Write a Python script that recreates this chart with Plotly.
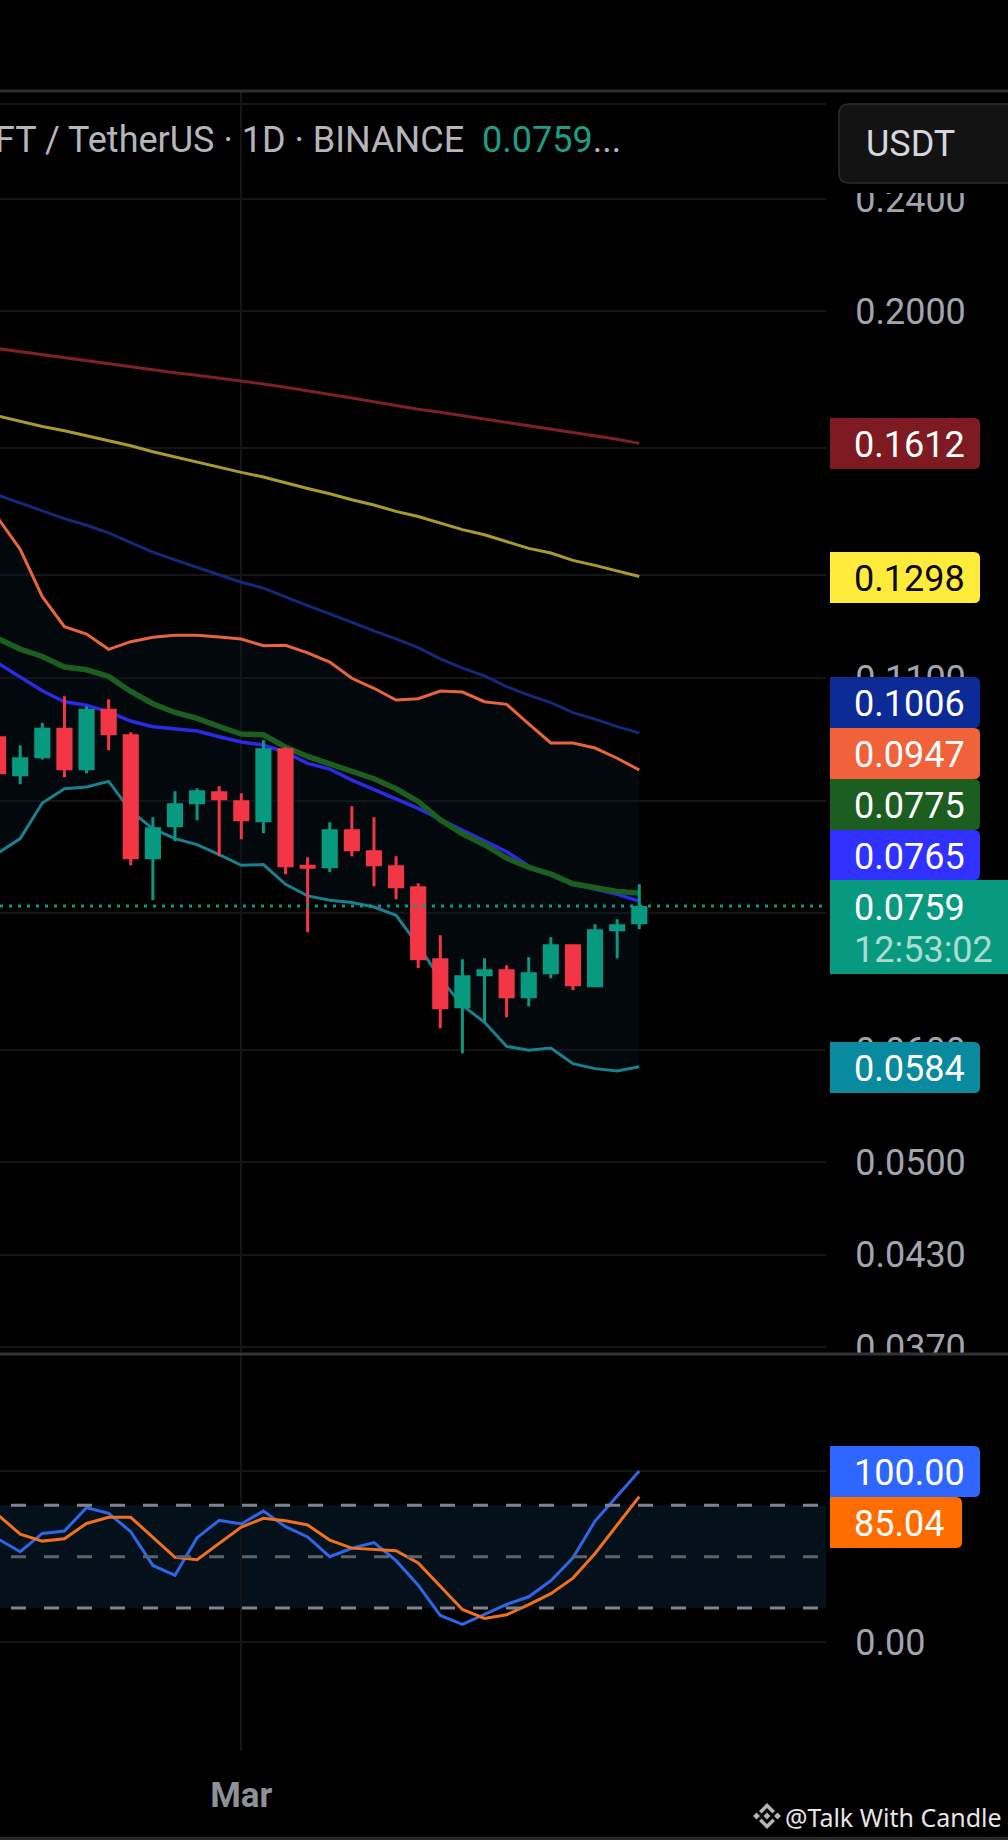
import pandas as pd
import plotly.graph_objects as go

# One candle per day, 18 Feb - 19 Mar
days = pd.date_range('2025-02-18', periods=30).strftime('%Y-%m-%d').tolist()

opens = [0.09982, 0.09397, 0.09677, 0.10118, 0.09490, 0.10436, 0.10014, 0.08210, 0.08649, 0.08979,
         0.09126, 0.08993, 0.08720, 0.09788, 0.08097, 0.08090, 0.08579, 0.08290, 0.08090, 0.07818,
         0.06953, 0.06440, 0.06785, 0.06830, 0.06546, 0.06807, 0.07114, 0.06664, 0.07301, 0.07385]
highs = [0.10105, 0.09860, 0.10225, 0.10679, 0.10507, 0.10628, 0.10072, 0.08770, 0.09149, 0.09193,
         0.09223, 0.09119, 0.09941, 0.09829, 0.08216, 0.08698, 0.08928, 0.08770, 0.08229, 0.07876,
         0.07236, 0.06958, 0.06970, 0.06891, 0.06981, 0.07213, 0.07131, 0.07367, 0.07427, 0.07863]
lows = [0.09344, 0.09253, 0.09633, 0.09359, 0.09421, 0.09780, 0.08110, 0.07661, 0.08433, 0.08727,
        0.08229, 0.08461, 0.08544, 0.07992, 0.07272, 0.08018, 0.08229, 0.07837, 0.07673, 0.06857,
        0.06219, 0.05971, 0.06280, 0.06332, 0.06446, 0.06746, 0.06616, 0.06649, 0.06970, 0.07307]
closes = [0.09428, 0.09646, 0.10118, 0.09490, 0.10436, 0.10046, 0.08210, 0.08606, 0.08950, 0.09141,
          0.09037, 0.08734, 0.09788, 0.08103, 0.08083, 0.08579, 0.08317, 0.08116, 0.07831, 0.06964,
          0.06431, 0.06763, 0.06830, 0.06546, 0.06796, 0.07114, 0.06676, 0.07289, 0.07349, 0.07570]

# Moving averages
ma_red = [0.18810, 0.18717, 0.18626, 0.18535, 0.18435, 0.18354, 0.18264, 0.18175, 0.18087, 0.18011,
          0.17932, 0.17844, 0.17756, 0.17663, 0.17564, 0.17471, 0.17357, 0.17253, 0.17141, 0.17041,
          0.16958, 0.16864, 0.16773, 0.16684, 0.16591, 0.16503, 0.16404, 0.16323, 0.16228, 0.1612]
ma_yellow = [0.16855, 0.16707, 0.16572, 0.16456, 0.16324, 0.16190, 0.16059, 0.15903, 0.15767, 0.15629,
             0.15501, 0.15376, 0.15261, 0.15113, 0.14980, 0.14852, 0.14706, 0.14580, 0.14430, 0.14312,
             0.14160, 0.14007, 0.13892, 0.13742, 0.13586, 0.13484, 0.13323, 0.13215, 0.13101, 0.1298]
ma_navy = [0.14815, 0.14624, 0.14435, 0.14261, 0.14109, 0.13933, 0.13715, 0.13503, 0.13335, 0.13177,
           0.13013, 0.12858, 0.12734, 0.12548, 0.12378, 0.12212, 0.12040, 0.11878, 0.11724, 0.11559,
           0.11349, 0.11178, 0.11039, 0.10848, 0.10697, 0.10568, 0.10398, 0.10287, 0.10164, 0.1006]
ma_green = [0.11727, 0.11531, 0.11393, 0.11199, 0.11149, 0.11028, 0.10762, 0.10549, 0.10400, 0.10300,
            0.10166, 0.10041, 0.10029, 0.09830, 0.09681, 0.09567, 0.09438, 0.09336, 0.09185, 0.08997,
            0.08733, 0.08536, 0.08385, 0.08205, 0.08080, 0.07993, 0.07868, 0.07813, 0.07770, 0.0775]
ma_blue = [0.11266, 0.11012, 0.10775, 0.10584, 0.10522, 0.10412, 0.10256, 0.10161, 0.10128, 0.10090,
           0.09997, 0.09911, 0.09863, 0.09746, 0.09573, 0.09485, 0.09316, 0.09176, 0.09028, 0.08897,
           0.08739, 0.08588, 0.08449, 0.08290, 0.08099, 0.07980, 0.07865, 0.07801, 0.07734, 0.0765]

# Bollinger bands
bb_upper = [0.14268, 0.13566, 0.12558, 0.11960, 0.11818, 0.11527, 0.11671, 0.11754, 0.11793, 0.11793,
            0.11760, 0.11723, 0.11594, 0.11603, 0.11459, 0.11291, 0.10996, 0.10818, 0.10614, 0.10636,
            0.10770, 0.10752, 0.10584, 0.10539, 0.10207, 0.09896, 0.09896, 0.09815, 0.09653, 0.0947]
bb_lower = [0.08272, 0.08469, 0.08974, 0.09187, 0.09211, 0.09297, 0.08858, 0.08608, 0.08469, 0.08386,
            0.08251, 0.08109, 0.08118, 0.07861, 0.07715, 0.07659, 0.07631, 0.07576, 0.07474, 0.07118,
            0.06742, 0.06455, 0.06279, 0.06038, 0.05999, 0.06022, 0.05870, 0.05823, 0.05800, 0.0584]

# Stoch RSI pane
rsi_k = [60.3, 52.9, 63.6, 65.0, 78.6, 75.3, 64.6, 44.9, 39.1, 61.1,
         71.2, 69.1, 76.7, 67.5, 61.5, 50.0, 54.9, 58.2, 47.7, 33.4,
         15.7, 10.5, 16.3, 22.2, 26.6, 36.0, 49.4, 70.8, 85.4, 100.0]
rsi_d = [74.3, 63.2, 59.1, 60.5, 69.4, 73.0, 73.0, 61.3, 49.6, 48.2,
         57.8, 67.3, 72.4, 71.0, 68.5, 59.7, 55.0, 54.1, 53.5, 46.3,
         32.5, 19.2, 14.0, 16.1, 22.0, 28.4, 37.5, 51.9, 68.5, 85.04]
rsi_levels = [80, 50, 20]

# Labels that sit fully under a price tag are left blank
price_ticks = [0.28, 0.24, 0.20, 0.16, 0.13, 0.11, 0.09, 0.075, 0.06, 0.05, 0.043, 0.037]
price_labels = ['', '0.2400', '0.2000', '', '', '0.1100', '', '', '0.0600', '0.0500', '0.0430', '0.0370']
rsi_ticks = [100, 0]
rsi_labels = ['', '0.00']
last_price = 0.0759

W, H = 1008, 1840
ML, MR, MT, MB = 0, 182, 92, 89
PLOT_W = W - ML - MR
PLOT_H = H - MT - MB
PANE_SPLIT = (1751 - 1354) / PLOT_H

FONT = 'Roboto'
GRID = '#141516'
UP = '#089981'
DOWN = '#f23645'


# Page pixels to paper coordinates
def px(x):
    return (x - ML) / PLOT_W


def py(y):
    return 1 - (y - MT) / PLOT_H


def rounded(x0, y0, x1, y1, left=0, right=6):
    return (f'M {px(x0 + left)} {py(y0)} L {px(x1 - right)} {py(y0)} '
            f'Q {px(x1)} {py(y0)} {px(x1)} {py(y0 + right)} '
            f'L {px(x1)} {py(y1 - right)} Q {px(x1)} {py(y1)} {px(x1 - right)} {py(y1)} '
            f'L {px(x0 + left)} {py(y1)} Q {px(x0)} {py(y1)} {px(x0)} {py(y1 - left)} '
            f'L {px(x0)} {py(y0 + left)} Q {px(x0)} {py(y0)} {px(x0 + left)} {py(y0)} Z')


def poly(points):
    head = ' L '.join(f'{px(x)} {py(y)}' for x, y in points)
    return f'M {head} Z'


def rect(x0, y0, x1, y1, color):
    return dict(type='rect', xref='paper', yref='paper', x0=px(x0), x1=px(x1), y0=py(y0), y1=py(y1),
                fillcolor=color, line_width=0, layer='above')


def text(x, y, s, color='#ffffff', size=36, anchor='left', family=FONT):
    return dict(xref='paper', yref='paper', x=px(x), y=py(y), text=s, showarrow=False,
                xanchor=anchor, yanchor='middle', font=dict(family=family, size=size, color=color))


fig = go.Figure()


def add_line(y, color, width, **kw):
    fig.add_trace(go.Scatter(x=days, y=y, mode='lines', line=dict(color=color, width=width),
                             hoverinfo='skip', showlegend=False, **kw))


# Band fill, then averages
add_line(bb_upper, '#e8653c', 3)
add_line(bb_lower, '#1a7f8e', 3, fill='tonexty', fillcolor='rgba(10,22,36,0.35)')
add_line(ma_red, '#7d2127', 3)
add_line(ma_yellow, '#a99a30', 3)
add_line(ma_navy, '#13297a', 3)
add_line(ma_blue, '#2b2be6', 3.5)
add_line(ma_green, '#1b5e20', 5.5)

# Candles sit on an overlaying axis so they draw above the lines
fig.add_trace(go.Candlestick(
    x=days, open=opens, high=highs, low=lows, close=closes, yaxis='y3',
    increasing=dict(line=dict(color=UP, width=3), fillcolor=UP),
    decreasing=dict(line=dict(color=DOWN, width=3), fillcolor=DOWN),
    whiskerwidth=0, hoverinfo='skip', showlegend=False,
))

fig.add_trace(go.Scatter(x=days, y=rsi_k, xaxis='x2', yaxis='y2', mode='lines', hoverinfo='skip',
                         line=dict(color='#2f66e8', width=3), showlegend=False))
fig.add_trace(go.Scatter(x=days, y=rsi_d, xaxis='x2', yaxis='y2', mode='lines', hoverinfo='skip',
                         line=dict(color='#f0701e', width=3), showlegend=False))

shapes = [
    # Stoch RSI band and its dashed levels
    dict(type='rect', xref='paper', yref='y2', x0=0, x1=1, y0=rsi_levels[2], y1=rsi_levels[0],
         fillcolor='#04101a', line_width=0, layer='below'),
]
for lvl in rsi_levels:
    shapes.append(dict(type='line', xref='paper', yref='y2', x0=px(-22), x1=1, y0=lvl, y1=lvl,
                       line=dict(color='#5f626b' if lvl == 50 else '#80838c', width=3, dash='15px,18px')))

# Last price, dotted
shapes.append(dict(type='line', xref='paper', yref='y', x0=0, x1=1, y0=last_price, y1=last_price,
                   line=dict(color=UP, width=3, dash='3px,6px')))

# Mask under the currency box, pane borders
shapes += [
    rect(830, 183, W, 193, '#000000'),
    rect(828, 1355, W, 1375, '#000000'),
    rect(0, 89.5, W, 92.5, '#2e2e2e'),
    rect(0, 1352.5, W, 1355.5, '#333333'),
    rect(0, 1837, W, H, '#2a2a2a'),
    dict(type='path', xref='paper', yref='paper', path=rounded(839, 104, W + 12, 183, left=10, right=8),
         fillcolor='#131313', line=dict(color='#2c2c2c', width=1.5), layer='above'),
]

annotations = [
    text(623, 140, 'FT / TetherUS · 1D · BINANCE  <span style="color:#1f9c85">0.0759</span>...',
         color='#b4b6bc', anchor='right'),
    text(864, 144, 'USDT', color='#d5d7dc'),
]


def badge(label, y0, y1, color, x1=980, ink='#ffffff'):
    shapes.append(dict(type='path', xref='paper', yref='paper', path=rounded(830, y0, x1, y1),
                       fillcolor=color, line_width=0, layer='above'))
    annotations.append(text(852, (y0 + y1) / 2 + 1.5, label, color=ink))


badge('0.1612', 418, 469, '#7e1b22')
badge('0.1298', 552, 603, '#ffeb3b', ink='#0a0a0a')
badge('0.1006', 677, 728, '#0d2b96')
badge('0.0947', 728, 779, '#f2623a')
badge('0.0775', 779, 830, '#1b5e20')
badge('0.0765', 830, 880, '#3030ff')
badge('0.0584', 1042, 1093, '#0a8a9e')
badge('100.00', 1446, 1497, '#2f66ff')
badge('85.04', 1497, 1548, '#ff6d00', x1=962)

# Last price tag holds the countdown too
shapes.append(dict(type='path', xref='paper', yref='paper', path=rounded(830, 880, W + 8, 974),
                   fillcolor=UP, line_width=0, layer='above'))
annotations.append(text(852, 908, '0.0759'))
annotations.append(text(852, 950, '12:53:02', color='rgba(255,255,255,0.68)'))

# Watermark
annotations.append(text(783, 1817, '@Talk With Candle', color='#e6e6e6', size=25, family='Noto Sans'))
LOGO = '#b5b5b5'
cx, cy = 767, 1816
for dx, dy in [(0, 0), (-10.5, 0), (10.5, 0)]:
    shapes.append(dict(type='path', xref='paper', yref='paper', fillcolor=LOGO, line_width=0, layer='above',
                       path=poly([(cx + dx, cy + dy - 3.5), (cx + dx + 3.5, cy + dy),
                                  (cx + dx, cy + dy + 3.5), (cx + dx - 3.5, cy + dy)])))
for s in (-1, 1):
    shapes.append(dict(type='path', xref='paper', yref='paper', fillcolor=LOGO, line_width=0, layer='above',
                       path=poly([(cx, cy + s * 13), (cx + 8, cy + s * 5), (cx + 5.5, cy + s * 2.5), (cx, cy + s * 8),
                                  (cx - 5.5, cy + s * 2.5), (cx - 8, cy + s * 5)])))

x_range = ['2025-02-18 02:04', '2025-03-27 10:41']
price_range = [-1.4367, -0.5441]
rsi_range = [-63.4, 168.3]
tick_font = dict(family=FONT, size=36, color='#a2a5ad')


def y_axis(**kw):
    return dict(side='right', tickmode='array', showgrid=True, gridcolor=GRID, gridwidth=2, zeroline=False,
                showline=False, ticks='outside', ticklen=21, tickcolor='rgba(0,0,0,0)', tickfont=tick_font,
                fixedrange=True, **kw)


fig.update_layout(
    width=W, height=H,
    margin=dict(l=ML, r=MR, t=MT, b=MB, pad=0),
    paper_bgcolor='#000000', plot_bgcolor='#000000',
    showlegend=False, boxgap=0.15, hovermode=False,
    xaxis=dict(domain=[0, 1], range=x_range, anchor='y', type='date', tickmode='array',
               tickvals=['2025-03-01'], ticktext=[''], showgrid=True, gridcolor=GRID, gridwidth=2,
               zeroline=False, showline=False, rangeslider=dict(visible=False), ticks=''),
    xaxis2=dict(domain=[0, 1], range=x_range, anchor='y2', type='date', tickmode='array',
                tickvals=['2025-03-01'], ticktext=['Mar'], showgrid=True, gridcolor=GRID, gridwidth=2,
                zeroline=False, showline=False, ticks='outside', ticklen=13, tickcolor='rgba(0,0,0,0)',
                tickfont=dict(family=FONT, size=35, color='#8e9198', weight='bold')),
    yaxis=y_axis(type='log', domain=[PANE_SPLIT, 1], range=price_range, anchor='x',
                 tickvals=price_ticks, ticktext=price_labels),
    yaxis2=y_axis(domain=[0, PANE_SPLIT], range=rsi_range, anchor='x2',
                  tickvals=rsi_ticks, ticktext=rsi_labels),
    yaxis3=dict(type='log', overlaying='y', side='right', range=price_range, visible=False, fixedrange=True),
    shapes=shapes,
    annotations=annotations,
)

fig.write_html('out.html', config=dict(displayModeBar=False),
               post_script="document.body.style.margin='0';document.body.style.background='#000';")
